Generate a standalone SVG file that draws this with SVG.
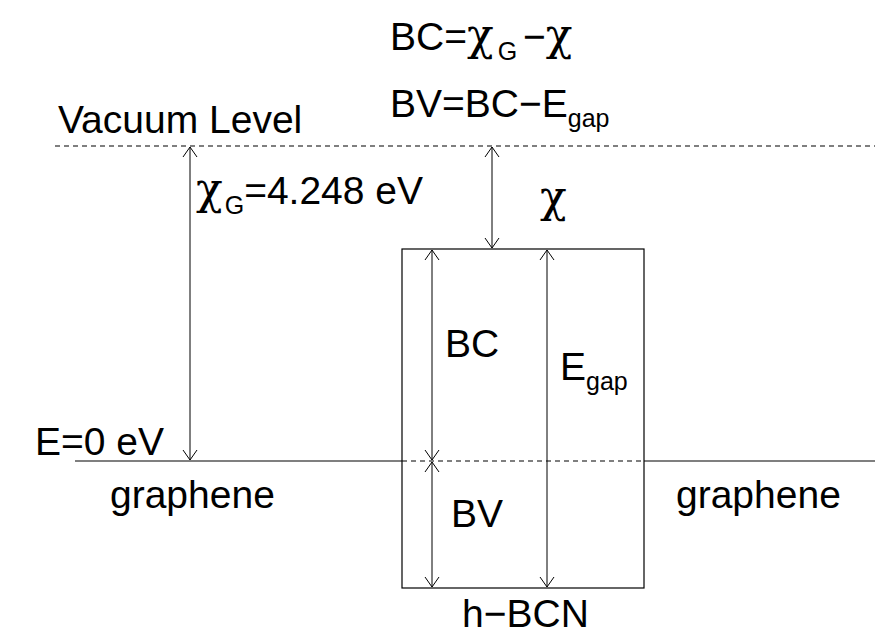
<svg xmlns="http://www.w3.org/2000/svg" width="889" height="635" viewBox="0 0 889 635">
<defs>
<marker id="a" viewBox="0 0 10 20" refX="10" refY="10" markerWidth="10" markerHeight="20" markerUnits="userSpaceOnUse" orient="auto-start-reverse"><path d="M0,3 L10,10 L0,17" fill="none" stroke="#000" stroke-width="1"/></marker>
</defs>
<style>
text{font-family:"Liberation Sans",Arial,sans-serif;font-size:39px;fill:#000}
.s{font-size:25px}
.g{font-family:"DejaVu Serif",serif;font-size:44px}
line{stroke:#000;stroke-width:1.2}
.d{stroke-dasharray:5,4}
.ar{marker-start:url(#a);marker-end:url(#a);stroke-width:1}
</style>
<rect width="889" height="635" fill="#fff"/>
<g id="levels">
<line class="d" x1="55" y1="146" x2="875" y2="146"/>
<line x1="75" y1="461" x2="402" y2="461"/>
<line class="d" x1="402" y1="461" x2="644" y2="461"/>
<line x1="644" y1="461" x2="875" y2="461"/>
</g>
<g id="hbcn"><rect x="402" y="249" width="242" height="339" fill="none" stroke="#000" stroke-width="1.2"/></g>
<g id="connectors">
<line class="ar" x1="190" y1="147" x2="190" y2="460"/>
<line class="ar" x1="492" y1="147" x2="492" y2="248"/>
<line class="ar" x1="432" y1="250" x2="432" y2="460"/>
<line class="ar" x1="432" y1="462" x2="432" y2="587"/>
<line class="ar" x1="547" y1="250" x2="547" y2="587"/>
</g>
<g id="labels">
<text x="390" y="50">BC=<tspan class="g">χ</tspan><tspan class="s" dx="4" dy="10">G</tspan><tspan dx="6" dy="-10">−</tspan><tspan class="g">χ</tspan></text>
<text x="390" y="117">BV=BC−E<tspan class="s" dy="10">gap</tspan></text>
<text x="58" y="133">Vacuum Level</text>
<text x="196" y="204"><tspan class="g">χ</tspan><tspan class="s" dx="2" dy="10">G</tspan><tspan dy="-10">=4.248 eV</tspan></text>
<text class="g" x="540" y="212">χ</text>
<text x="445" y="357">BC</text>
<text x="560" y="380">E<tspan class="s" dy="10">gap</tspan></text>
<text x="35" y="455">E=0 eV</text>
<text x="110" y="508">graphene</text>
<text x="676" y="508">graphene</text>
<text x="451" y="527">BV</text>
<text x="462" y="627">h−BCN</text>
</g>
</svg>
